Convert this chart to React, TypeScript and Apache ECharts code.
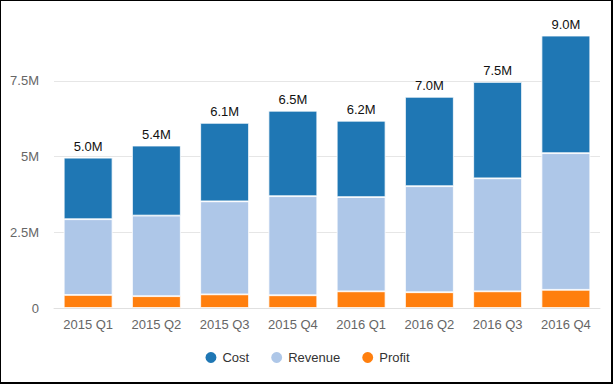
import React, { useEffect, useRef } from "react";
import * as echarts from "echarts";

const categories = ["2015 Q1", "2015 Q2", "2015 Q3", "2015 Q4", "2016 Q1", "2016 Q2", "2016 Q3", "2016 Q4"];
const profit = [0.43, 0.39, 0.45, 0.42, 0.55, 0.52, 0.55, 0.6].map((v) => v * 1e6);
const revenue = [2.5, 2.66, 3.07, 3.27, 3.11, 3.5, 3.73, 4.51].map((v) => v * 1e6);
const cost = [2.03, 2.31, 2.59, 2.82, 2.52, 2.95, 3.18, 3.88].map((v) => v * 1e6);
const yTicks = [0, 2.5e6, 5e6, 7.5e6];

const FONT = "'Liberation Sans', Arial, sans-serif";

function fmtAxis(v: number): string {
  if (v === 0) return "0";
  const m = v / 1e6;
  return (Number.isInteger(m) ? String(m) : m.toFixed(1)) + "M";
}

export default function App() {
  const ref = useRef<HTMLDivElement>(null);
  useEffect(() => {
    if (!ref.current) return;
    const chart = echarts.init(ref.current, undefined, { renderer: "svg" });
    const common = {
      type: "bar" as const,
      stack: "total",
      barCategoryGap: "28.5%",
      itemStyle: { borderColor: "#ffffff", borderWidth: 0.8 },
    };
    chart.setOption({
      animation: false,
      textStyle: { fontFamily: FONT },
      grid: { left: 54, right: 13, top: 5, bottom: 76, containLabel: false },
      legend: {
        data: ["Cost", "Revenue", "Profit"],
        bottom: 14,
        left: "center",
        icon: "circle",
        itemWidth: 13,
        itemHeight: 13,
        itemGap: 20,
        textStyle: { fontFamily: FONT, fontSize: 13, color: "#333" },
      },
      xAxis: {
        type: "category",
        data: categories,
        axisLine: { show: true, lineStyle: { color: "#e0e0e0" } },
        axisTick: { show: false },
        axisLabel: { color: "#666", fontSize: 13, fontFamily: FONT, margin: 10 },
      },
      yAxis: {
        type: "value",
        min: 0,
        max: 10e6,
        interval: 2.5e6,
        axisLine: { show: false },
        axisTick: { show: false },
        axisLabel: {
          color: "#666",
          fontSize: 13,
          fontFamily: FONT,
          margin: 15,
          showMaxLabel: false,
          formatter: (v: number) => (yTicks.includes(v) ? fmtAxis(v) : ""),
        },
        splitLine: { show: true, showMaxLine: false, showMinLine: false, lineStyle: { color: "#e6e6e6" } },
      },
      series: [
        { ...common, name: "Profit", data: profit, itemStyle: { ...common.itemStyle, color: "#ff7f0e" } },
        { ...common, name: "Revenue", data: revenue, itemStyle: { ...common.itemStyle, color: "#aec7e8" } },
        {
          ...common,
          name: "Cost",
          data: cost,
          itemStyle: { ...common.itemStyle, color: "#1f77b4" },
          label: {
            show: true,
            position: "top",
            distance: 5,
            color: "#111",
            fontSize: 13,
            fontFamily: FONT,
            formatter: (p: any) => {
              const i = p.dataIndex;
              return ((profit[i] + revenue[i] + cost[i]) / 1e6).toFixed(1) + "M";
            },
          },
        },
      ],
    });
    return () => chart.dispose();
  }, []);
  return (
    <div
      style={{
        position: "fixed",
        left: 0,
        top: 0,
        width: 613,
        height: 384,
        boxSizing: "border-box",
        borderStyle: "solid",
        borderColor: "#000",
        borderWidth: "1px 2px 2px 1px",
        background: "#fff",
      }}
    >
      <div ref={ref} style={{ position: "absolute", left: -1, top: -1, width: 613, height: 384 }} />
    </div>
  );
}
